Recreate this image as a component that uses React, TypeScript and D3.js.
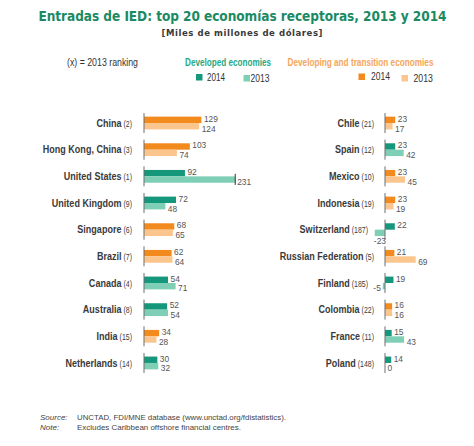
import React from "react";
import * as d3 from "d3";

const leftCountries = ["China", "Hong Kong, China", "United States", "United Kingdom", "Singapore", "Brazil", "Canada", "Australia", "India", "Netherlands"];
const leftRanks = [2, 3, 1, 9, 6, 7, 4, 8, 15, 14];
const left2014 = [129, 103, 92, 72, 68, 62, 54, 52, 34, 30];
const left2013 = [124, 74, 231, 48, 65, 64, 71, 54, 28, 32];
const leftDeveloped = [false, false, true, true, false, false, true, true, false, true];

const rightCountries = ["Chile", "Spain", "Mexico", "Indonesia", "Switzerland", "Russian Federation", "Finland", "Colombia", "France", "Poland"];
const rightRanks = [21, 12, 10, 19, 187, 5, 185, 22, 11, 148];
const right2014 = [23, 23, 23, 23, 22, 21, 19, 16, 15, 14];
const right2013 = [17, 42, 45, 19, -23, 69, -5, 16, 43, 0];
const rightDeveloped = [false, true, false, false, true, false, true, false, true, true];

const breakValue = 205; // bars beyond this value are drawn broken

const COL = {
  dev14: "#14977a",
  dev13: "#7fcfb6",
  dvg14: "#f28a1e",
  dvg13: "#fbc68e",
};

const W = 474;
const H = 446;
const sans = "'Liberation Sans', Arial, sans-serif";
const cond = "'DejaVu Sans Condensed', 'DejaVu Sans', sans-serif";

const y = d3.scaleBand<number>().domain(d3.range(10)).range([109.7, 376.3]).padding(0);
const len = d3.scaleLinear().domain([0, 100]).range([0, 44.5]);

function NT({ x, y, sx = 0.82, anchor = "start", children, ...rest }: any) {
  return (
    <text transform={`translate(${x},${y}) scale(${sx},1)`} textAnchor={anchor} fontFamily={sans} {...rest}>
      {children}
    </text>
  );
}

function Panel({ axisX, labelX, countries, ranks, v14, v13, dev }: any) {
  const bh = 6.4;
  return (
    <g>
      {countries.map((c: string, i: number) => {
        const cy = (y(i) as number) + y.bandwidth() / 2;
        const c14 = dev[i] ? COL.dev14 : COL.dvg14;
        const c13 = dev[i] ? COL.dev13 : COL.dvg13;
        const a = v14[i];
        const bRaw = v13[i];
        const broken = bRaw > breakValue;
        const b = broken ? breakValue : bRaw;
        const la = len(Math.abs(a));
        const lb = len(Math.abs(b));
        const x14 = a >= 0 ? axisX : axisX - la;
        const x13 = b >= 0 ? axisX : axisX - lb;
        const end14 = a >= 0 ? axisX + la : axisX - la;
        const end13 = b >= 0 ? axisX + lb : axisX - lb;
        let lab13x = end13 + 2.5;
        let lab13y = cy + 8.5;
        let anchor13: any = "start";
        if (b < 0) {
          if (lb > 8) {
            lab13x = axisX - lb / 2;
            lab13y = cy + 14.5;
            anchor13 = "middle";
          } else {
            lab13x = end13 - 2;
            anchor13 = "end";
          }
        }
        if (broken) lab13x = end13 + 2;
        const lx = b < 0 ? labelX - 6 : labelX;
        return (
          <g key={c}>
            <rect x={x14} y={cy - bh} width={la} height={bh} fill={c14} />
            <rect x={x13} y={cy} width={lb} height={bh} fill={c13} />
            {broken && (
              <line x1={end13} x2={end13} y1={cy - 2.5} y2={cy + 8.5} stroke="#333" strokeWidth={1} />
            )}
            <line x1={axisX} x2={axisX} y1={cy - 10} y2={cy + 10} stroke="#6f6f6f" strokeWidth={1} />
            <NT x={end14 + 2.5} y={cy - 1.4} sx={0.88} fontSize={9.5} fill="#555">
              {a}
            </NT>
            <NT x={lab13x} y={lab13y} sx={0.88} fontSize={9.5} fill="#555" anchor={anchor13}>
              {bRaw}
            </NT>
            <NT x={lx} y={cy + 3.8} anchor="end" fill="#3a3a3a">
              <tspan fontSize={11} fontWeight="bold">{c}</tspan>
              <tspan fontSize={8.5} dx={2.5}>({ranks[i]})</tspan>
            </NT>
          </g>
        );
      })}
    </g>
  );
}

export default function App() {
  return (
    <svg
      width={W}
      height={H}
      viewBox={`0 0 ${W} ${H}`}
      style={{ position: "absolute", left: 0, top: 0, background: "#fff" }}
    >
      <rect width={W} height={H} fill="#fff" />
      <text
        x={38.5}
        y={20.5}
        fontFamily={cond}
        fontWeight="bold"
        fontSize={13.5}
        fill="#1b8a63"
        textLength={408}
        lengthAdjust="spacing"
      >
        Entradas de IED: top 20 economías receptoras, 2013 y 2014
      </text>
      <text
        x={161.5}
        y={35.5}
        fontFamily={cond}
        fontWeight="bold"
        fontSize={9.5}
        fill="#3a3a3a"
        textLength={161}
        lengthAdjust="spacing"
      >
        [Miles de millones de dólares]
      </text>

      <text x={67} y={66} fontFamily={sans} fontSize={10} fill="#333" textLength={71} lengthAdjust="spacingAndGlyphs">
        (x) = 2013 ranking
      </text>
      <text x={185} y={66} fontFamily={sans} fontSize={10} fontWeight="bold" fill="#2aa882" textLength={86} lengthAdjust="spacingAndGlyphs">
        Developed economies
      </text>
      <text x={287.5} y={66} fontFamily={sans} fontSize={10} fontWeight="bold" fill="#f5a65a" textLength={146} lengthAdjust="spacingAndGlyphs">
        Developing and transition economies
      </text>

      <rect x={196} y={74} width={6.5} height={6.5} fill={COL.dev14} />
      <text x={207} y={80.5} fontFamily={sans} fontSize={10} fill="#333" textLength={18} lengthAdjust="spacingAndGlyphs">2014</text>
      <rect x={243.5} y={75} width={6.5} height={6.5} fill={COL.dev13} />
      <text x={250.5} y={82} fontFamily={sans} fontSize={10} fill="#333" textLength={19} lengthAdjust="spacingAndGlyphs">2013</text>
      <rect x={358.5} y={73.5} width={6.5} height={6.5} fill={COL.dvg14} />
      <text x={371} y={80} fontFamily={sans} fontSize={10} fill="#333" textLength={19} lengthAdjust="spacingAndGlyphs">2014</text>
      <rect x={401.5} y={75} width={6.5} height={6.5} fill={COL.dvg13} />
      <text x={413.5} y={82} fontFamily={sans} fontSize={10} fill="#333" textLength={19.5} lengthAdjust="spacingAndGlyphs">2013</text>

      <Panel axisX={144} labelX={132} countries={leftCountries} ranks={leftRanks} v14={left2014} v13={left2013} dev={leftDeveloped} />
      <Panel axisX={385} labelX={374} countries={rightCountries} ranks={rightRanks} v14={right2014} v13={right2013} dev={rightDeveloped} />

      <text x={40} y={419.5} fontFamily={sans} fontSize={8} fontStyle="italic" fill="#444">Source:</text>
      <text x={77} y={419.5} fontFamily={sans} fontSize={8} fill="#444" textLength={209} lengthAdjust="spacingAndGlyphs">
        UNCTAD, FDI/MNE database (www.unctad.org/fdistatistics).
      </text>
      <text x={40} y={430} fontFamily={sans} fontSize={8} fontStyle="italic" fill="#444">Note:</text>
      <text x={77} y={430} fontFamily={sans} fontSize={8} fill="#444" textLength={164} lengthAdjust="spacingAndGlyphs">
        Excludes Caribbean offshore financial centres.
      </text>
    </svg>
  );
}
